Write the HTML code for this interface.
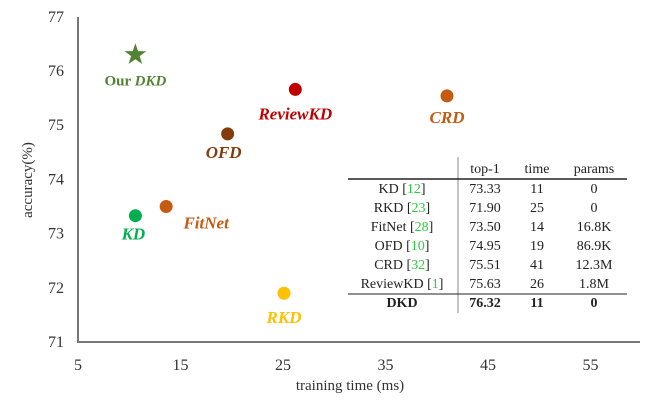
<!DOCTYPE html>
<html><head><meta charset="utf-8"><style>
html,body{margin:0;padding:0;background:#fff;}
svg text{font-family:"Liberation Serif",serif;}
</style></head><body>
<svg id="chart" width="645" height="400" xmlns="http://www.w3.org/2000/svg">
<g id="axes"></g><g id="marks"></g>
<g font-size="14" fill="#222">
<line x1="458" y1="157" x2="458" y2="313" stroke="#888" stroke-width="1"/>
<line x1="348" y1="179" x2="627" y2="179" stroke="#222" stroke-width="1.5"/>
<line x1="348" y1="294" x2="627" y2="294" stroke="#222" stroke-width="1"/>
<text x="485" y="173" text-anchor="middle">top-1</text>
<text x="537" y="173" text-anchor="middle">time</text>
<text x="594" y="173" text-anchor="middle">params</text>
<g id="rows"></g>
</g>
</svg>
<script>
const methods=["KD","RKD","FitNet","OFD","CRD","ReviewKD"];
const refs=["12","23","28","10","32","1"];
const trainTime=[10.6,25.1,13.6,19.6,41.0,26.2];
const accuracy=[73.33,71.90,73.50,74.84,75.54,75.66];
const tableTop1=["73.33","71.90","73.50","74.95","75.51","75.63"];
const tableTime=["11","25","14","19","41","26"];
const tableParams=["0","0","16.8K","86.9K","12.3M","1.8M"];
const colors=["#00b050","#ffc000","#c55a11","#843c0c","#c55a11","#c00000"];
const dkdTime=[10.6], dkdAcc=[76.3];
const xTicks=[5,15,25,35,45,55];
const yTicks=[71,72,73,74,75,76,77];
const NS="http://www.w3.org/2000/svg";
const X=v=>78+(v-5)*10.25, Y=v=>342-(v-71)*54.2;
function mk(t,a,p,txt){const e=document.createElementNS(NS,t);for(const k in a)e.setAttribute(k,a[k]);if(txt!=null)e.textContent=txt;p.appendChild(e);return e;}
const ax=document.getElementById('axes'),mg=document.getElementById('marks');
let l=mk('path',{d:`M78 17 V342 H640`,fill:'none',stroke:'#777','stroke-width':2},ax);

xTicks.forEach(v=>{const t=mk('text',{x:X(v),y:370,'text-anchor':'middle','font-size':16,fill:'#333'},ax,v);
});
yTicks.forEach(v=>{const t=mk('text',{x:64,y:Y(v)+5,'text-anchor':'end','font-size':16,fill:'#333'},ax,v);
});
let xt=mk('text',{x:350,y:390,'text-anchor':'middle','font-size':15,fill:'#333'},ax,'training time (ms)');

let yt=mk('text',{x:0,y:0,'text-anchor':'middle','font-size':15,fill:'#333',transform:'translate(32,180) rotate(-90)'},ax,'accuracy(%)');

const lblOff=[[-2,24],[0,30],[40,22],[-4,24],[0,27],[0,30]];
methods.forEach((m,i)=>{const cx=X(trainTime[i]),cy=Y(accuracy[i]);
const c=mk('circle',{cx:cx,cy:cy,r:6.5,fill:colors[i]},mg);

const t=mk('text',{x:cx+lblOff[i][0],y:cy+lblOff[i][1],'text-anchor':'middle','font-size':17,'font-weight':'bold','font-style':'italic',fill:colors[i]},mg,m);
});
const sx=X(dkdTime[0]),sy=Y(dkdAcc[0]);let pts=[];
for(let k=0;k<10;k++){const r=k%2?4.5:11.5,a=-Math.PI/2+k*Math.PI/5;pts.push((sx+r*Math.cos(a)).toFixed(1)+','+(sy+r*Math.sin(a)).toFixed(1));}
const st=mk('polygon',{points:pts.join(' '),fill:'#548235'},mg);

const dl=mk('text',{x:sx,y:sy+31,'text-anchor':'middle','font-size':15,'font-weight':'bold',fill:'#548235'},mg);
dl.innerHTML='Our <tspan font-style="italic">DKD</tspan>';

const rows=document.getElementById('rows');
methods.forEach((m,i)=>{const y=193+i*19;
const n=mk('text',{x:402,y:y,'text-anchor':'middle'},rows);n.innerHTML=`${m} [<tspan fill="#2ecc40">${refs[i]}</tspan>]`;

[[485,tableTop1[i]],[537,tableTime[i]],[594,tableParams[i]]].forEach(([x,v])=>{const t=mk('text',{x:x,y:y,'text-anchor':'middle'},rows,v);
});});
[[402,'DKD'],[485,'76.32'],[537,'11'],[594,'0']].forEach(([x,v])=>{const t=mk('text',{x:x,y:307,'text-anchor':'middle','font-weight':'bold'},rows,v);
});
</script>
</body></html>
